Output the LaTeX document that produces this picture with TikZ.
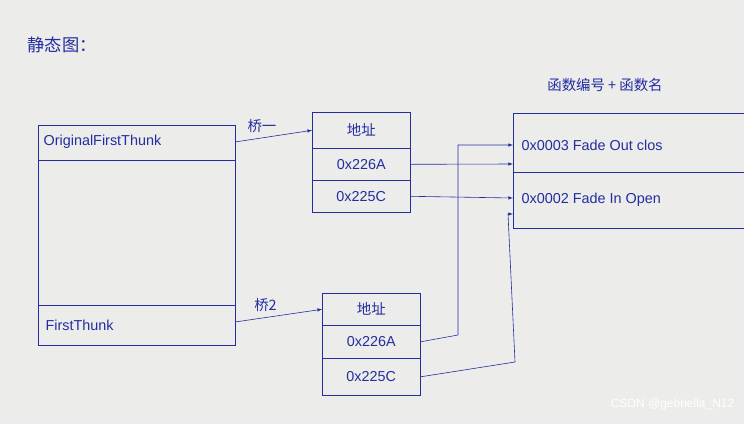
\documentclass[tikz,border=0pt]{standalone}
\usepackage{fontspec}
\setmainfont{Liberation Sans}
\newfontfamily\cjk{Noto Sans CJK SC}
\usetikzlibrary{positioning}
\definecolor{ink}{RGB}{35,45,160}
\definecolor{paper}{RGB}{236,236,234}

\begin{document}
\begin{tikzpicture}[x=1pt,y=-1pt, ink, semithick,
    cell/.style={draw=ink, minimum width=98pt, inner sep=0pt, anchor=north west, font=\Large},
    lbl/.style={font=\cjk\Large, text=ink}]
            \fill[paper] (0,0) rectangle (744,424);
            \useasboundingbox (0,0) rectangle (744,424);

            \node[lbl, font=\cjk\LARGE] (title) at (62,45) {静态图：};

            % big table
            \draw (38,125) rectangle (235,345);
            \draw (38,160) -- (235,160);
            \draw (38,305) -- (235,305);
            \node[font=\Large, anchor=west] (oft) at (40,142) {OriginalFirstThunk};
            \node[font=\Large, anchor=west] (ft) at (42,325) {FirstThunk};
            \coordinate (oftR) at (235,142);
            \coordinate (ftR) at (235,322);

            % bridge 1
            \node[cell, minimum height=36pt] (a1) at (312,112) {\cjk 地址};
            \node[cell, minimum height=32pt] (a1x) at (312,148) {0x226A};
            \node[cell, minimum height=32pt] (a1y) at (312,180) {0x225C};
            % bridge 2
            \node[cell, minimum height=32pt] (a2) at (322,293) {\cjk 地址};
            \node[cell, minimum height=33pt] (a2x) at (322,325) {0x226A};
            \node[cell, minimum height=37pt] (a2y) at (322,358) {0x225C};

            % names
            \node[lbl] (head) at (605,85) {函数编号 + 函数名};
            \draw (513,113) -- (744,113);
            \draw (513,113) -- (513,228) -- (744,228);
            \draw (513,172) -- (744,172);
            \node[font=\Large, anchor=west] (n3) at (518,145) {0x0003 Fade Out clos};
            \node[font=\Large, anchor=west] (n2) at (518,200) {0x0002 Fade In Open};
            \coordinate (n3a) at (513,145);
            \coordinate (n3b) at (513,164);
            \coordinate (n2a) at (513,198);
            \coordinate (n2b) at (513,214);

            \draw[->, >=latex] (oftR) -- node[lbl, above=2pt, pos=0.35] {桥一} (a1.west);
            \draw[->, >=latex] (ftR) -- node[lbl, above=2pt, pos=0.35] {桥2} (a2.west);

            \draw[->, >=latex] (a1x.east) -- (n3b);
            \draw[->, >=latex] (a1y.east) -- (n2a);
            \draw[->, >=latex] (a2x.east) -- (458,335) -- (458,145) -- (n3a);
            \draw[->, >=latex] (a2y.east) -- (515,362) -- (508,214) -- (n2b);

            \node[text=white, font=\large, anchor=east] (mark) at (738,404) {CSDN @gebriella\_N12};
        \end{tikzpicture}
\end{document}
